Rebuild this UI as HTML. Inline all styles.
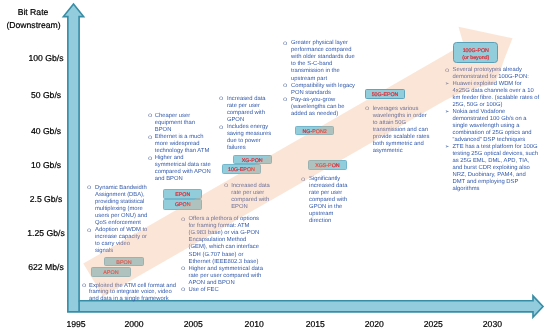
<!DOCTYPE html>
<html><head><meta charset="utf-8"><title>PON evolution</title>
<style>
html,body{margin:0;padding:0;background:#fff;}
#c{text-rendering:geometricPrecision;position:relative;width:550px;height:333px;overflow:hidden;background:#fff;font-family:"Liberation Sans",sans-serif;}
#c svg{position:absolute;left:0;top:0;}
.t{filter:blur(0.35px);position:absolute;white-space:nowrap;font-size:5.85px;line-height:7px;color:#3158aa;}
.b{position:absolute;font-size:6.4px;line-height:7px;color:#7080ae;width:4px;text-align:center;transform:scaleX(1.18);}
.b.a{font-family:"DejaVu Sans",sans-serif;font-size:5px;color:#2a50a0;transform:none;}
.ax{position:absolute;white-space:nowrap;font-size:8.65px;line-height:10px;color:#000;-webkit-text-stroke:0.2px #000;}
.r{text-align:right;}
.c{text-align:center;}
.box{position:absolute;box-sizing:border-box;border:0.5px solid #74b6cb;background:#92cddc;border-radius:1.5px;color:#e02c34;font-weight:normal;-webkit-text-stroke:0.22px #e02c34;text-align:center;white-space:nowrap;}
.box span{display:inline-block;transform-origin:50% 50%;}
</style></head><body><div id="c">

<svg width="550" height="333" viewBox="0 0 550 333">
<polygon points="67.85,311.85 533,311.85 533,317.2 543,306.5 533,295.9 533,300.7 79.1,300.7 79.1,16.6 83.6,16.6 73.5,4.0 63.4,16.6 67.85,16.6" fill="#93cddd" stroke="#388da6" stroke-width="1.65" stroke-linejoin="miter"/>
<line x1="79.1" y1="300.7" x2="79.1" y2="311.85" stroke="#388da6" stroke-width="1.65"/>
</svg>

<div class="ax c" style="left:-7px;width:80px;top:7.3px">Bit Rate</div>
<div class="ax c" style="left:-6.5px;width:80px;top:19.8px">(Downstream)</div>
<div class="ax c" style="left:6px;width:80px;top:52.5px">100 Gb/s</div>
<div class="ax c" style="left:6px;width:80px;top:89.5px">50 Gb/s</div>
<div class="ax c" style="left:6px;width:80px;top:125.8px">40 Gb/s</div>
<div class="ax c" style="left:6px;width:80px;top:159.8px">10 Gb/s</div>
<div class="ax c" style="left:6px;width:80px;top:194.2px">2.5 Gb/s</div>
<div class="ax c" style="left:6px;width:80px;top:228.0px">1.25 Gb/s</div>
<div class="ax c" style="left:6px;width:80px;top:262.2px">622 Mb/s</div>
<div class="ax c" style="left:36px;width:80px;top:319.0px">1995</div>
<div class="ax c" style="left:94px;width:80px;top:319.0px">2000</div>
<div class="ax c" style="left:153.3px;width:80px;top:319.0px">2005</div>
<div class="ax c" style="left:214.2px;width:80px;top:319.0px">2010</div>
<div class="ax c" style="left:275.3px;width:80px;top:319.0px">2015</div>
<div class="ax c" style="left:334.3px;width:80px;top:319.0px">2020</div>
<div class="ax c" style="left:393.3px;width:80px;top:319.0px">2025</div>
<div class="ax c" style="left:452.4px;width:80px;top:319.0px">2030</div>
<div class="box" style="left:90.9px;top:266.7px;width:40.0px;height:10.2px;line-height:11.2px;font-size:5.4px;background:#92cddc;font-weight:normal;-webkit-text-stroke:0.15px #e23030;"><span style="transform:scaleX(1)">APON</span></div>
<div class="box" style="left:104px;top:256.5px;width:40.0px;height:9.9px;line-height:10.9px;font-size:5.4px;background:#92cddc;font-weight:normal;-webkit-text-stroke:0.15px #e23030;"><span style="transform:scaleX(1)">BPON</span></div>
<div class="box" style="left:163.1px;top:188.7px;width:39.3px;height:10.2px;line-height:11.2px;font-size:5.3px;background:#92cddc;"><span style="transform:scaleX(1)">EPON</span></div>
<div class="box" style="left:163.1px;top:199.3px;width:39.3px;height:10.5px;line-height:11.5px;font-size:5.3px;background:#92cddc;"><span style="transform:scaleX(1)">GPON</span></div>
<div class="box" style="left:232.6px;top:154.5px;width:39.2px;height:9.6px;line-height:10.6px;font-size:5.3px;background:#92cddc;"><span style="transform:scaleX(1)">XG-PON</span></div>
<div class="box" style="left:222px;top:164.4px;width:38.9px;height:10.0px;line-height:11.0px;font-size:5.3px;background:#92cddc;"><span style="transform:scaleX(1)">10G-EPON</span></div>
<div class="box" style="left:295px;top:125.5px;width:39.2px;height:9.7px;line-height:10.7px;font-size:5.3px;background:#92cddc;"><span style="transform:scaleX(1)">NG-PON2</span></div>
<div class="box" style="left:307.8px;top:159.7px;width:39.2px;height:10.5px;line-height:11.5px;font-size:5.3px;background:#92cddc;"><span style="transform:scaleX(1)">XGS-PON</span></div>
<div class="b" style="left:87.0px;top:184.4px;">o</div>
<div class="t" style="left:95.0px;top:184.8px;">Dynamic Bandwidth</div>
<div class="t" style="left:95.0px;top:191.8px;">Assignment (DBA),</div>
<div class="t" style="left:95.0px;top:198.8px;">providing statistical</div>
<div class="t" style="left:95.0px;top:205.9px;">multiplexing (more</div>
<div class="t" style="left:95.0px;top:212.9px;">users per ONU) and</div>
<div class="t" style="left:95.0px;top:219.9px;">QoS enforcement</div>
<div class="b" style="left:87.0px;top:226.5px;">o</div>
<div class="t" style="left:95.0px;top:226.9px;">Adoption of WDM to</div>
<div class="t" style="left:95.0px;top:233.9px;">increase capacity or</div>
<div class="t" style="left:95.0px;top:241.0px;">to carry video</div>
<div class="t" style="left:95.0px;top:248.0px;">signals</div>
<div class="b" style="left:81.7px;top:282.1px;">o</div>
<div class="t" style="left:89.0px;top:282.5px;">Exploited the ATM cell format and</div>
<div class="t" style="left:89.0px;top:289.1px;">framing to integrate voice, video</div>
<div class="t" style="left:89.0px;top:295.7px;">and data in a single framework</div>
<div class="b" style="left:147.7px;top:112.3px;">o</div>
<div class="t" style="left:154.8px;top:112.7px;">Cheaper user</div>
<div class="t" style="left:154.8px;top:119.8px;">equipment than</div>
<div class="t" style="left:154.8px;top:126.8px;">BPON</div>
<div class="b" style="left:147.7px;top:133.5px;">o</div>
<div class="t" style="left:154.8px;top:133.9px;">Ethernet is a much</div>
<div class="t" style="left:154.8px;top:140.9px;">more widespread</div>
<div class="t" style="left:154.8px;top:148.0px;">technology than ATM</div>
<div class="b" style="left:147.7px;top:154.6px;">o</div>
<div class="t" style="left:154.8px;top:155.0px;">Higher and</div>
<div class="t" style="left:154.8px;top:162.1px;">symmetrical data rate</div>
<div class="t" style="left:154.8px;top:169.1px;">compared with APON</div>
<div class="t" style="left:154.8px;top:176.2px;">and BPON</div>
<div class="b" style="left:219.2px;top:95.4px;">o</div>
<div class="t" style="left:226.9px;top:95.8px;">Increased data</div>
<div class="t" style="left:226.9px;top:102.9px;">rate per user</div>
<div class="t" style="left:226.9px;top:109.9px;">compared with</div>
<div class="t" style="left:226.9px;top:117.0px;">GPON</div>
<div class="b" style="left:219.2px;top:123.6px;">o</div>
<div class="t" style="left:226.9px;top:124.0px;">Includes energy</div>
<div class="t" style="left:226.9px;top:131.1px;">saving measures</div>
<div class="t" style="left:226.9px;top:138.1px;">due to power</div>
<div class="t" style="left:226.9px;top:145.2px;">failures</div>
<div class="b" style="left:223.6px;top:182.3px;">o</div>
<div class="t" style="left:231.2px;top:182.7px;">Increased data</div>
<div class="t" style="left:231.2px;top:189.8px;">rate per user</div>
<div class="t" style="left:231.2px;top:196.8px;">compared with</div>
<div class="t" style="left:231.2px;top:203.9px;">EPON</div>
<div class="b" style="left:180.9px;top:215.9px;">o</div>
<div class="t" style="left:188.5px;top:216.3px;">Offers a plethora of options</div>
<div class="t" style="left:188.5px;top:223.3px;">for framing format: ATM</div>
<div class="t" style="left:188.5px;top:230.4px;">(G.983 base) or via G-PON</div>
<div class="t" style="left:188.5px;top:237.4px;">Encapsulation Method</div>
<div class="t" style="left:188.5px;top:244.4px;">(GEM), which can interface</div>
<div class="t" style="left:188.5px;top:251.5px;">SDH (G.707 base) or</div>
<div class="t" style="left:188.5px;top:258.5px;">Ethernet (IEEE802.3 base)</div>
<div class="b" style="left:180.9px;top:265.1px;">o</div>
<div class="t" style="left:188.5px;top:265.5px;">Higher and symmetrical data</div>
<div class="t" style="left:188.5px;top:272.5px;">rate per user compared with</div>
<div class="t" style="left:188.5px;top:279.6px;">APON and BPON</div>
<div class="b" style="left:180.9px;top:286.2px;">o</div>
<div class="t" style="left:188.5px;top:286.6px;">Use of FEC</div>
<div class="b" style="left:282.8px;top:39.7px;">o</div>
<div class="t" style="left:291.0px;top:40.1px;">Greater physical layer</div>
<div class="t" style="left:291.0px;top:47.2px;">performance compared</div>
<div class="t" style="left:291.0px;top:54.3px;">with older standards due</div>
<div class="t" style="left:291.0px;top:61.3px;">to the S-C-band</div>
<div class="t" style="left:291.0px;top:68.4px;">transmission in the</div>
<div class="t" style="left:291.0px;top:75.5px;">upstream part</div>
<div class="b" style="left:282.8px;top:82.2px;">o</div>
<div class="t" style="left:291.0px;top:82.6px;">Compatibility with legacy</div>
<div class="t" style="left:291.0px;top:89.7px;">PON standards</div>
<div class="b" style="left:282.8px;top:96.3px;">o</div>
<div class="t" style="left:291.0px;top:96.7px;">Pay-as-you-grow</div>
<div class="t" style="left:291.0px;top:103.8px;">(wavelengths can be</div>
<div class="t" style="left:291.0px;top:110.9px;">added as needed)</div>
<div class="b" style="left:301.2px;top:175.8px;">o</div>
<div class="t" style="left:309.1px;top:176.2px;">Significantly</div>
<div class="t" style="left:309.1px;top:183.2px;">increased data</div>
<div class="t" style="left:309.1px;top:190.3px;">rate per user</div>
<div class="t" style="left:309.1px;top:197.3px;">compared with</div>
<div class="t" style="left:309.1px;top:204.4px;">GPON in the</div>
<div class="t" style="left:309.1px;top:211.4px;">upstream</div>
<div class="t" style="left:309.1px;top:218.4px;">direction</div>
<div class="b" style="left:365.1px;top:105.1px;">o</div>
<div class="t" style="left:372.7px;top:105.5px;">leverages various</div>
<div class="t" style="left:372.7px;top:112.5px;">wavelengths in order</div>
<div class="t" style="left:372.7px;top:119.5px;">to attain 50G</div>
<div class="t" style="left:372.7px;top:126.5px;">transmission and can</div>
<div class="t" style="left:372.7px;top:133.5px;">provide scalable rates</div>
<div class="t" style="left:372.7px;top:140.5px;">both symmetric and</div>
<div class="t" style="left:372.7px;top:147.5px;">asymmetric</div>
<div class="b" style="left:445.0px;top:67.0px;">o</div>
<div class="t" style="left:452.5px;top:67.4px;">Several prototypes already</div>
<div class="t" style="left:452.5px;top:74.4px;">demonstrated for 100G-PON:</div>
<div class="b a" style="left:445.0px;top:81.4px;">&#10146;</div>
<div class="t" style="left:452.5px;top:81.4px;">Huawei exploited WDM for</div>
<div class="t" style="left:452.5px;top:88.4px;">4x25G data channels over a 10</div>
<div class="t" style="left:452.5px;top:95.4px;">km feeder fibre. (scalable rates of</div>
<div class="t" style="left:452.5px;top:102.4px;">25G, 50G or 100G)</div>
<div class="b a" style="left:445.0px;top:109.4px;">&#10146;</div>
<div class="t" style="left:452.5px;top:109.4px;">Nokia and Vodafone</div>
<div class="t" style="left:452.5px;top:116.4px;">demonstrated 100 Gb/s on a</div>
<div class="t" style="left:452.5px;top:123.4px;">single wavelength using a</div>
<div class="t" style="left:452.5px;top:130.4px;">combination of 25G optics and</div>
<div class="t" style="left:452.5px;top:137.4px;">“advanced” DSP techniques</div>
<div class="b a" style="left:445.0px;top:144.4px;">&#10146;</div>
<div class="t" style="left:452.5px;top:144.4px;">ZTE has a test platform for 100G</div>
<div class="t" style="left:452.5px;top:151.4px;">testing 25G optical devices, such</div>
<div class="t" style="left:452.5px;top:158.4px;">as 25G EML, DML, APD, TIA,</div>
<div class="t" style="left:452.5px;top:165.4px;">and burst CDR exploiting also</div>
<div class="t" style="left:452.5px;top:172.4px;">NRZ, Duobinary, PAM4, and</div>
<div class="t" style="left:452.5px;top:179.4px;">DMT and employing DSP</div>
<div class="t" style="left:452.5px;top:186.4px;">algorithms</div>
<svg width="550" height="333" viewBox="0 0 550 333">
<polygon points="83.3,263.6 463.5,44.2 458.5,26.8 512.5,38.2 504,60 499.5,73 494,84.5 478,87.5 461.4,92.5 445,100.5 103,296.5" fill="#f2a876" fill-opacity="0.3"/>
</svg>

<div class="box" style="left:365.1px;top:89.2px;width:39.9px;height:9.9px;line-height:10.9px;font-size:5.3px;background:#92cddc;border-color:#5fa5bd;"><span style="transform:scaleX(1)">50G-EPON</span></div>
<div class="box" style="left:453.2px;top:42.2px;width:45.2px;height:21.1px;border-radius:3.5px;font-size:5.3px;line-height:7.4px;padding-top:4.6px;background:#92cddc;border-color:#5a9fb8;"><span>100G-PON<br>(or beyond)</span></div>
</div></body></html>
